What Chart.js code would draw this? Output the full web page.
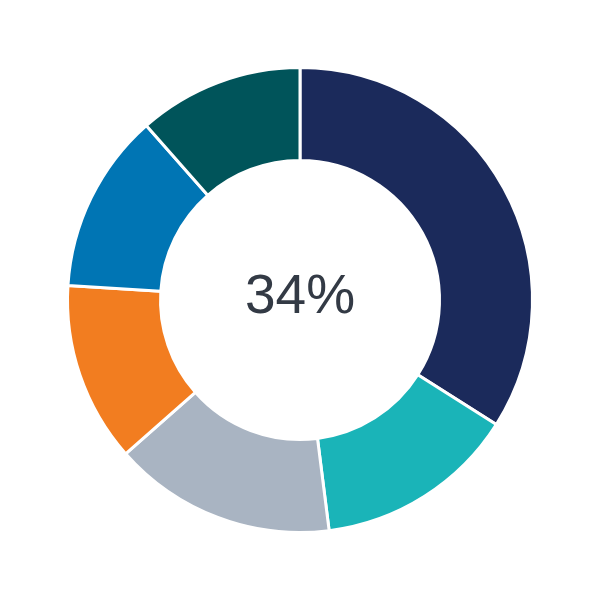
<!DOCTYPE html>
<html>
<head>
<meta charset="utf-8">
<script src="https://cdn.jsdelivr.net/npm/chart.js@4"></script>
<style>
html,body{margin:0;padding:0;background:#fff;}
#wrap{width:600px;height:600px;}
</style>
</head>
<body>
<div id="wrap"><canvas id="c" width="600" height="600"></canvas></div>
<script>
const categories = ["Navy", "Teal", "Gray", "Orange", "Blue", "Dark teal"];
const values = [34, 14, 15.5, 12.5, 12.5, 11.5];
const colors = ["#1b2a5b", "#1ab4b8", "#a9b4c2", "#f27d20", "#0075b4", "#00545a"];
const centerLabel = "34%";

const centerText = {
  id: 'centerText',
  afterDraw(chart) {
    const {ctx} = chart;
    const meta = chart.getDatasetMeta(0);
    const arc = meta.data[0];
    ctx.save();
    ctx.font = '55px "Liberation Sans", Arial, sans-serif';
    ctx.fillStyle = '#333a45';
    ctx.textAlign = 'center';
    ctx.textBaseline = 'middle';
    ctx.fillText(centerLabel, arc.x, arc.y - 2);
    ctx.restore();
  }
};

new Chart(document.getElementById('c'), {
  type: 'doughnut',
  data: {
    labels: categories,
    datasets: [{
      data: values,
      backgroundColor: colors,
      borderColor: '#ffffff',
      borderWidth: 3,
      hoverOffset: 0
    }]
  },
  options: {
    responsive: false,
    animation: false,
    cutout: '60%',
    layout: { padding: 66 },
    plugins: {
      legend: { display: false },
      tooltip: { enabled: false }
    }
  },
  plugins: [centerText]
});
</script>
</body>
</html>
